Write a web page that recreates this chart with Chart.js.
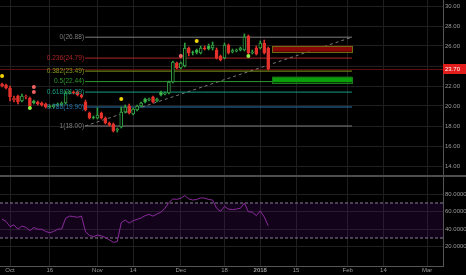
<!DOCTYPE html>
<html>
<head>
<meta charset="utf-8">
<script src="https://cdn.jsdelivr.net/npm/chart.js@4.4.1/dist/chart.umd.min.js"></script>
<style>
  html, body { margin: 0; padding: 0; background: #000; }
  #wrap { position: relative; width: 466px; height: 275px; overflow: hidden; }
  #top { position: absolute; left: 0; top: 0; }
  #bot { position: absolute; left: 0; top: 177px; }
  #sep { position: absolute; left: 0; top: 175px; width: 466px; height: 2px; background: #4d4d4d; }
</style>
</head>
<body>
<div id="wrap">
  <canvas id="top" width="466" height="175"></canvas>
  <div id="sep"></div>
  <canvas id="bot" width="466" height="98"></canvas>
</div>
<script>
// bar index 0 = 2 Oct 2017 (trading days)
const firstBar = -2;
const opens  = [22.2,22.1,21.8,20.6,21.0,20.5,20.9,20.8,20.5,20.4,20.3,20.2,20.0,19.9,20.1,20.1,20.3,21.3,21.4,21.4,21.1,20.4,19.3,18.9,18.8,19.3,18.8,18.3,18.2,17.6,17.9,19.4,20.0,19.2,19.6,20.0,20.7,20.6,20.9,20.5,21.4,21.2,21.3,22.4,24.3,23.8,24.0,25.8,25.3,25.6,25.3,25.8,26.0,25.8,25.6,25.0,24.8,26.1,25.4,25.5,25.6,25.6,27.0,25.3,25.8,25.8,26.3,25.8];
const highs  = [22.3,22.2,22.0,21.0,21.1,21.2,21.1,20.9,20.6,20.5,20.4,20.3,20.1,20.2,20.3,20.4,21.5,21.5,21.5,21.5,21.2,20.6,19.4,19.0,19.8,19.4,18.9,18.4,18.3,17.8,19.9,20.1,20.2,19.8,20.1,20.4,20.8,20.8,21.0,20.8,21.5,21.4,22.5,24.5,24.4,24.4,26.3,25.9,25.5,25.7,26.0,26.0,26.2,26.4,25.8,25.1,26.3,26.2,25.7,25.7,25.9,27.2,27.1,25.6,26.0,26.5,26.6,25.9];
const lows   = [21.9,21.7,20.5,20.4,20.2,20.4,20.7,19.8,20.2,20.1,20.0,19.8,19.8,19.8,20.0,20.0,20.2,21.2,21.2,21.0,20.8,19.5,18.7,18.7,18.7,18.7,18.2,18.0,17.4,17.4,17.8,19.3,19.2,19.1,19.5,19.9,20.3,20.5,20.3,20.4,21.0,21.1,21.2,22.3,23.7,23.7,23.9,25.0,25.1,25.2,25.2,25.6,25.6,25.6,24.7,24.5,24.7,25.2,25.3,25.4,25.5,25.5,25.2,25.2,25.1,25.7,25.2,23.6];
const closes = [22.0,21.8,20.9,20.8,20.4,21.0,20.95,20.0,20.3,20.2,20.1,19.9,19.9,20.1,20.2,20.3,21.3,21.4,21.3,21.1,20.9,19.6,18.8,18.85,19.1,18.8,18.3,18.1,17.5,17.7,19.4,19.9,19.3,19.7,20.0,20.3,20.4,20.7,20.4,20.7,21.1,21.3,22.4,24.4,23.8,24.3,25.8,25.3,25.3,25.35,25.8,25.7,25.7,26.1,24.8,24.6,26.1,25.3,25.55,25.6,25.8,26.9,25.3,25.4,25.2,26.3,25.3,23.7];
const rsi    = [51.5,49,43,45,40,43.7,42.2,38.4,42,40,40,37.5,36,37.5,40,40.3,52.5,55,54.5,53.6,55,37.2,33,31.5,33.4,32.5,30.5,28,25.1,25.8,47.5,50.6,47,49.8,51.3,52.8,55.5,57,55,57.4,59.5,63.9,70.5,74.6,74.2,75.3,78.5,74.6,73.4,74,75.8,75.6,74,73.4,64,60.5,66,63,62.5,63,64,69.8,60,59.5,55.5,61,54,44];

const yellowDots = [[-2, 23.0], [28, 20.7], [47, 26.5]];
const redDots    = [[6, 21.9], [6, 21.4], [43, 25.0]];
const greenDots  = [[5, 19.8], [60, 25.0]];

const fibLevels = ['0', '0.236', '0.382', '0.5', '0.618', '0.786', '1'];
const fibPrices = [26.88, 24.79, 23.49, 22.44, 21.39, 19.90, 18.00];
const fibColors = ['#7d7d7d', '#b02626', '#879a1c', '#2c9a2c', '#169c86', '#2b78ad', '#7d7d7d'];
const fibFrom = 18.9, fibTo = 86.1;

const zoneFrom = [66, 66];
const zoneTo = [86.1, 86.1];
const zoneTop = [26.03, 22.93];
const zoneBottom = [25.43, 22.37];

const timeTicks = [0, 10, 22, 31, 43, 54, 63, 72, 85, 94, 105];
const timeLabels = ['Oct', '16', 'Nov', '14', 'Dec', '18', '2018', '15', 'Feb', '14', 'Mar'];
const priceTicks = [14, 16, 18, 20, 22, 24, 26, 28, 30];
const rsiTicks = [20, 40, 60, 80];
const rsiBands = [70, 30];

const xMin = -2.52, xMax = 109.0;
const FONT = '"Liberation Sans", Arial, sans-serif';
const gridCol = '#1f1f1f';
const textCol = '#9a9a9a';

const idx = opens.map((_, k) => firstBar + k);
const colors = closes.map((c, k) => {
  const prev = k ? closes[k - 1] : opens[k];
  return c >= prev ? 'up' : 'down';
});
const hollow = closes.map((c, k) => c > opens[k]);
const lineCol = { up: '#33a043', down: '#e0302b' };
const fillCol = { up: '#46c94a', down: '#e5332d' };

const bodyData = idx.map((x, k) => ({ x: x, y: [opens[k], closes[k] === opens[k] ? closes[k] + 0.05 : closes[k]] }));
const wickData = idx.map((x, k) => ({ x: x, y: [lows[k], highs[k]] }));

const fibDatasets = fibPrices.map((p, k) => ({
  type: 'line',
  data: [{ x: fibFrom, y: p }, { x: fibTo, y: p }],
  borderColor: fibColors[k],
  borderWidth: 1,
  pointRadius: 0,
  pointHoverRadius: 0,
  order: 5
}));

function dots(list, color) {
  return {
    type: 'line',
    showLine: false,
    data: list.map(d => ({ x: d[0], y: d[1] })),
    pointRadius: 2,
    pointHoverRadius: 2,
    pointBorderWidth: 0,
    pointBackgroundColor: color,
    order: 0
  };
}

// no extra label padding, so the plot fills the canvas
function noPad(s) {
  s.paddingTop = 0; s.paddingBottom = 0; s.paddingLeft = 0; s.paddingRight = 0;
}

const overlay = {
  id: 'overlay',
  beforeDatasetsDraw(chart) {
    const { ctx, chartArea, scales: { y } } = chart;
    const py = Math.round(y.getPixelForValue(closes[closes.length - 1])) + 0.5;
    ctx.save();
    ctx.strokeStyle = '#5c0c0c';
    ctx.lineWidth = 1;
    ctx.beginPath();
    ctx.moveTo(chartArea.left, py);
    ctx.lineTo(chartArea.right, py);
    ctx.stroke();
    ctx.restore();
  },
  afterDatasetsDraw(chart) {
    const { ctx, scales: { x, y } } = chart;
    ctx.save();
    // zones
    const zoneFill = ['#870606', '#0a9e0a'];
    const zoneLine = ['#6e6a12', '#1a7a1a'];
    zoneFrom.forEach((f, k) => {
      const x0 = x.getPixelForValue(f), x1 = x.getPixelForValue(zoneTo[k]);
      const y0 = y.getPixelForValue(zoneTop[k]), y1 = y.getPixelForValue(zoneBottom[k]);
      ctx.fillStyle = zoneFill[k];
      ctx.fillRect(x0, y0, x1 - x0, y1 - y0);
      ctx.strokeStyle = zoneLine[k];
      ctx.lineWidth = 1;
      ctx.strokeRect(Math.round(x0) + 0.5, Math.round(y0) + 0.5, Math.round(x1 - x0), Math.round(y1 - y0));
    });
    // fib labels
    ctx.font = '6.6px ' + FONT;
    ctx.textAlign = 'right';
    ctx.textBaseline = 'middle';
    const lx = x.getPixelForValue(fibFrom) - 1;
    fibPrices.forEach((p, k) => {
      ctx.fillStyle = fibColors[k];
      ctx.fillText(fibLevels[k] + '(' + p.toFixed(2) + ')', lx, y.getPixelForValue(p));
    });
    ctx.restore();
  },
  afterDraw(chart) {
    const { ctx, chartArea, scales: { y } } = chart;
    const last = closes[closes.length - 1];
    const py = y.getPixelForValue(last);
    ctx.save();
    ctx.fillStyle = '#e31c1c';
    ctx.fillRect(chartArea.right, py - 5, 23, 10);
    ctx.fillStyle = '#ffffff';
    ctx.font = '6px ' + FONT;
    ctx.textAlign = 'left';
    ctx.textBaseline = 'middle';
    ctx.fillText(last.toFixed(2), chartArea.right + 2, py + 0.5);
    ctx.restore();
  }
};

new Chart(document.getElementById('top'), {
  type: 'bar',
  data: {
    datasets: [
      dots(yellowDots, '#f2d400'),
      dots(redDots, '#f06262'),
      dots(greenDots, '#95ec45'),
      {
        data: bodyData,
        grouped: false,
        barThickness: 3,
        backgroundColor: colors.map((c, k) => hollow[k] ? '#000' : fillCol[c]),
        borderColor: colors.map(c => lineCol[c]),
        borderWidth: 1,
        borderSkipped: false,
        order: 1
      },
      {
        data: wickData,
        grouped: false,
        barThickness: 1,
        backgroundColor: colors.map(c => lineCol[c]),
        borderWidth: 0,
        order: 2
      },
      {
        type: 'line',
        data: [{ x: fibFrom, y: fibPrices[6] }, { x: fibTo, y: fibPrices[0] }],
        borderColor: '#7a7a7a',
        borderWidth: 1,
        borderDash: [3, 3],
        pointRadius: 0,
        pointHoverRadius: 0,
        order: 4
      },
      ...fibDatasets
    ]
  },
  options: {
    responsive: false,
    animation: false,
    layout: { padding: 0, autoPadding: false },
    plugins: { legend: { display: false }, tooltip: { enabled: false } },
    scales: {
      x: {
        type: 'linear', min: xMin, max: xMax, offset: false,
        afterBuildTicks: s => { s.ticks = timeTicks.map(v => ({ value: v })); },
        afterFit: s => { s.height = 0; noPad(s); },
        ticks: { display: false },
        grid: { color: gridCol, drawTicks: false, offset: false },
        border: { display: false }
      },
      y: {
        position: 'right', min: 13.1, max: 30.6,
        afterBuildTicks: s => { s.ticks = priceTicks.map(v => ({ value: v })); },
        afterFit: s => { s.width = 23; noPad(s); },
        ticks: { color: textCol, font: { size: 6, family: FONT }, padding: 2, callback: v => v.toFixed(2) },
        grid: { color: gridCol, drawTicks: false },
        border: { display: true, color: '#555' }
      }
    }
  },
  plugins: [overlay]
});

new Chart(document.getElementById('bot'), {
  type: 'line',
  data: {
    datasets: [
      {
        data: rsi.map((v, k) => ({ x: firstBar + k, y: v })),
        borderColor: '#8a2a9c',
        borderWidth: 1,
        pointRadius: 0,
        pointHoverRadius: 0,
        tension: 0
      },
      {
        data: [{ x: xMin, y: rsiBands[0] }, { x: xMax, y: rsiBands[0] }],
        borderColor: '#8c7f9a',
        borderWidth: 1,
        borderDash: [3, 2],
        pointRadius: 0,
        pointHoverRadius: 0,
        fill: false
      },
      {
        data: [{ x: xMin, y: rsiBands[1] }, { x: xMax, y: rsiBands[1] }],
        borderColor: '#8c7f9a',
        borderWidth: 1,
        borderDash: [3, 2],
        pointRadius: 0,
        pointHoverRadius: 0,
        fill: '-1',
        backgroundColor: 'rgba(80, 12, 120, 0.22)'
      }
    ]
  },
  options: {
    responsive: false,
    animation: false,
    layout: { padding: 0, autoPadding: false },
    plugins: { legend: { display: false }, tooltip: { enabled: false } },
    scales: {
      x: {
        type: 'linear', min: xMin, max: xMax,
        afterBuildTicks: s => { s.ticks = timeTicks.map(v => ({ value: v })); },
        afterFit: s => { s.height = 9; noPad(s); },
        ticks: {
          color: textCol, padding: 1, maxRotation: 0, autoSkip: false,
          font: c => ({ size: 6, family: FONT, weight: c.tick && c.tick.label === '2018' ? 'bold' : 'normal' }),
          callback: (v, k) => timeLabels[k]
        },
        grid: { color: gridCol, drawTicks: false },
        border: { display: true, color: '#555' }
      },
      y: {
        position: 'right', min: -2, max: 99.7,
        afterBuildTicks: s => { s.ticks = rsiTicks.map(v => ({ value: v })); },
        afterFit: s => { s.width = 23; noPad(s); },
        ticks: { color: textCol, font: { size: 6, family: FONT }, padding: 2, callback: v => v.toFixed(4) },
        grid: { color: gridCol, drawTicks: false },
        border: { display: true, color: '#555' }
      }
    }
  }
});
</script>
</body>
</html>
